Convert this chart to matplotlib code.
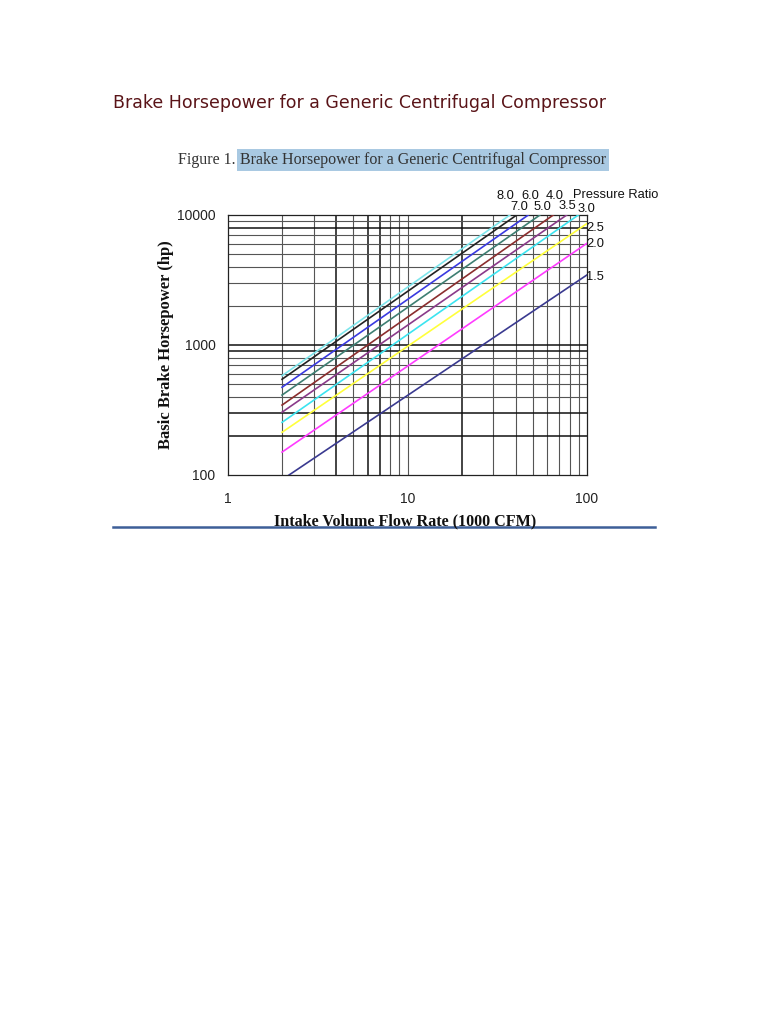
import numpy as np
import matplotlib
matplotlib.use('Agg')
import matplotlib.pyplot as plt
from matplotlib.ticker import FixedLocator, NullFormatter

# pressure ratio curves: value at 2 (1000 CFM) and where each one ends
ratios = ['8.0', '7.0', '6.0', '5.0', '4.0', '3.5', '3.0', '2.5', '2.0', '1.5']
colors = ['#7ee6ec', '#222222', '#3a3ae0', '#3e7f72', '#8b2e2e', '#8a3a8a',
          '#3ce4f0', '#ffff3c', '#ff3cff', '#3a3a90']
start_flow = [2, 2, 2, 2, 2, 2, 2, 2, 2, 2]
start_hp = [580, 545, 473, 412, 345, 304, 254, 213, 150, 92]
end_flow = [37.2, 40.6, 47.1, 54.7, 64.9, 77.1, 89.5, 100, 100, 100]
end_hp = [10000, 10000, 10000, 10000, 10000, 10000, 10000, 8600, 6060, 3460]

# grid lines, the darker ones look heavier in the scan
x_grid = [2, 3, 4, 5, 6, 7, 8, 9, 10, 20, 30, 40, 50, 60, 70, 80, 90]
x_dark = [4, 6, 7, 20]
y_grid = [200, 300, 400, 500, 600, 700, 800, 900, 1000,
          2000, 3000, 4000, 5000, 6000, 7000, 8000, 9000]
y_dark = [200, 300, 900, 1000, 8000]

fig = plt.figure(figsize=(7.68, 10.24), dpi=100)

# page heading
fig.text(113/768, 1-103/1024, 'Brake Horsepower for a Generic Centrifugal Compressor',
         family='DejaVu Sans', fontsize=12.55, color='#5a1418', va='center', ha='left')

# figure caption with the blue highlight
fig.text(178/768, 1-160/1024, 'Figure 1.', family='Liberation Serif', fontsize=11.5,
         color='#333333', va='center', ha='left')
fig.text(240/768, 1-160/1024, 'Brake Horsepower for a Generic Centrifugal Compressor',
         family='Liberation Serif', fontsize=11.5, color='#333333', va='center', ha='left',
         bbox=dict(boxstyle='square,pad=0.2', fc='#a9c9e2', ec='none'))

ax = fig.add_axes([228/768, 1-475/1024, 359/768, 260/1024])
ax.set_xscale('log')
ax.set_yscale('log')
ax.set_xlim(1, 100)
ax.set_ylim(100, 10000)

for xv in x_grid:
    if xv in x_dark:
        ax.axvline(xv, color='#111111', lw=1.1, zorder=1)
    else:
        ax.axvline(xv, color='#555555', lw=0.8, zorder=1)
for yv in y_grid:
    if yv in y_dark:
        ax.axhline(yv, color='#111111', lw=1.1, zorder=1)
    else:
        ax.axhline(yv, color='#555555', lw=0.8, zorder=1)

for i in range(len(ratios)):
    ax.plot([start_flow[i], end_flow[i]], [start_hp[i], end_hp[i]],
            color=colors[i], lw=1.2, zorder=3, clip_on=True)

for s in ax.spines.values():
    s.set_color('#222222')
    s.set_linewidth(0.9)

ax.xaxis.set_major_locator(FixedLocator([1, 10, 100]))
ax.yaxis.set_major_locator(FixedLocator([100, 1000, 10000]))
ax.xaxis.set_minor_formatter(NullFormatter())
ax.yaxis.set_minor_formatter(NullFormatter())
ax.set_xticklabels(['1', '10', '100'])
ax.set_yticklabels(['100', '1000', '10000'])
ax.tick_params(which='both', length=0, labelsize=10, colors='#222222')
ax.tick_params(axis='x', pad=12)
ax.tick_params(axis='y', pad=9)
for lab in ax.get_xticklabels() + ax.get_yticklabels():
    lab.set_family('Liberation Sans')

# y label placed by hand, the scan has it close to the tick labels
fig.text(166/768, 1-345/1024, 'Basic Brake Horsepower (hp)', family='Liberation Serif',
         fontweight='bold', fontsize=12, color='#111111', rotation=90,
         va='center', ha='center')

# pressure ratio labels around the top right corner
lab_font = dict(family='Liberation Sans', fontsize=9.3, color='#111111', va='center', ha='center')
fig.text(505/768, 1-196/1024, '8.0', **lab_font)
fig.text(530/768, 1-196/1024, '6.0', **lab_font)
fig.text(555/768, 1-196/1024, '4.0', **lab_font)
fig.text(573/768, 1-195/1024, 'Pressure Ratio', family='Liberation Sans', fontsize=9.3,
         color='#111111', va='center', ha='left')
fig.text(519/768, 1-207/1024, '7.0', **lab_font)
fig.text(542/768, 1-207/1024, '5.0', **lab_font)
fig.text(567/768, 1-206/1024, '3.5', **lab_font)
fig.text(586/768, 1-209/1024, '3.0', **lab_font)
fig.text(595/768, 1-228/1024, '2.5', **lab_font)
fig.text(595/768, 1-244/1024, '2.0', **lab_font)
fig.text(595/768, 1-277/1024, '1.5', **lab_font)

# x label sitting on the blue rule
fig.add_artist(plt.Line2D([113/768, 655/768], [1-527/1024, 1-527/1024],
                          color='#3d5f98', lw=1.8, transform=fig.transFigure))
fig.text(405/768, 1-521/1024, 'Intake Volume Flow Rate (1000 CFM)', family='Liberation Serif',
         fontweight='bold', fontsize=11.6, color='#111111', va='center', ha='center')

fig.savefig('out.png', dpi=100, facecolor='white')
